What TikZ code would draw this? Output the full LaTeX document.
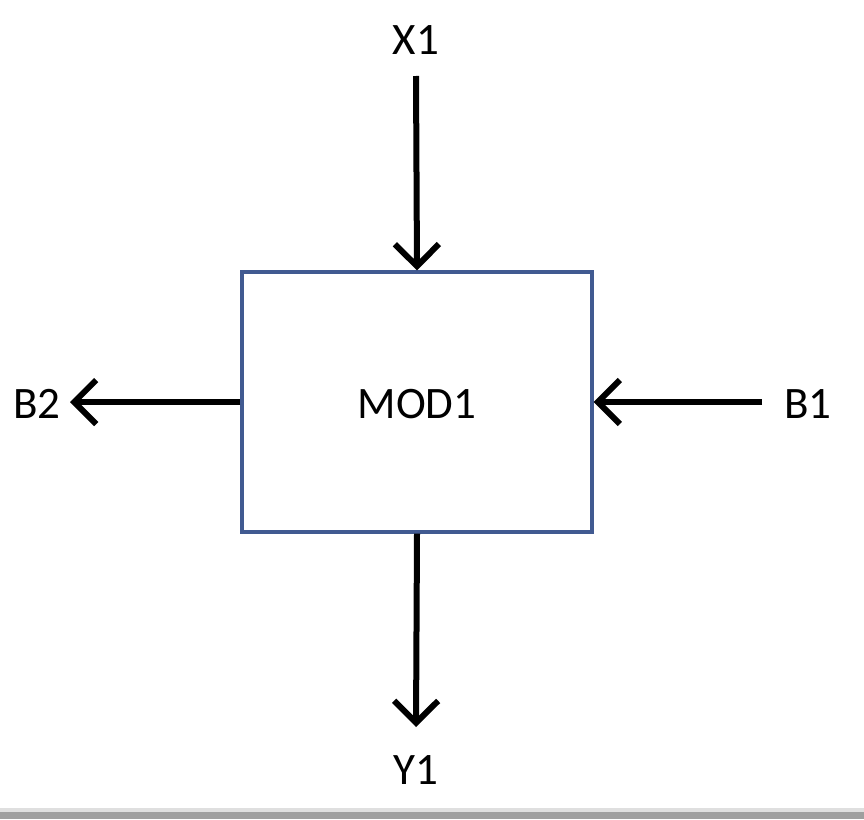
\documentclass[tikz,border=0pt]{standalone}
\usepackage{fontspec}
\setmainfont{Carlito}
\usetikzlibrary{arrows.meta}
\begin{document}
\begin{tikzpicture}[x=1pt,y=-1pt,
  lbl/.style={font=\fontsize{45}{52}\selectfont, inner sep=0pt},
  arr/.style={line width=6pt, -{Straight Barb[length=22pt,width=44pt,line width=6pt]}},
  boxs/.style={draw={rgb,255:red,65;green,90;blue,145}, line width=3.2pt, minimum width=350pt, minimum height=260pt, inner sep=0pt}]
\useasboundingbox (0,0) rectangle (864,819);
\fill[gray!25] (0,808) rectangle (864,812);
\fill[gray!75] (0,812) rectangle (864,819);
\node[boxs] (m) at (417,402) {};
\node[lbl] (t) at (417,404) {MOD1};
\node[lbl] (x1) at (416,40) {X1};
\node[lbl] (y1) at (416,770) {Y1};
\node[lbl] (b2) at (37,404) {B2};
\node[lbl] (b1) at (808,404) {B1};
\coordinate (x1s) at (416,76);
\coordinate (b1s) at (762,402);
\coordinate (b2e) at (70,402);
\coordinate (y1e) at (416,727);
\draw[arr] (x1s) -- (m.north);
\draw[arr] (m.south) -- (y1e);
\draw[arr] (m.west) -- (b2e);
\draw[arr] (b1s) -- (m.east);
\end{tikzpicture}
\end{document}
